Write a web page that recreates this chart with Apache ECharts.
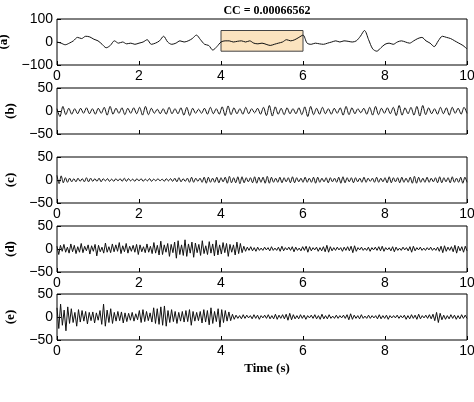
<!DOCTYPE html>
<html lang="en">
<head>
<meta charset="UTF-8">
<title>CC</title>
<script src="https://cdn.jsdelivr.net/npm/echarts@6/dist/echarts.min.js"></script>
<style>body{margin:0;background:#fff}</style>
</head>
<body>
<div id="main" style="width:474px;height:402px;"></div>
<script>
// panel (a): samples every 0.1 s
var sigA = [0,-5,-12,-5,5,20,15,25,22,12,5,-10,-25,-15,5,-5,0,-8,-5,-10,-5,0,10,-10,-5,5,25,0,-10,-5,5,0,5,15,30,10,-10,-15,-35,-20,
  0,5,5,0,3,5,0,5,-5,-8,-5,-10,-15,-10,-5,0,10,5,10,20,30,-5,-10,-5,-8,-10,-5,0,5,0,5,3,0,5,25,50,10,-30,-40,-25,
  -10,-5,-10,0,5,0,-5,5,15,20,5,-5,-20,5,25,20,15,5,-5,-15,-30];
// panels (b)-(e): successive peaks / troughs
var sigB = [5,-12,10,-8,6,-7,5,-6,6,-5,7,-6,5,-7,6,-5,8,-9,10,-7,6,-5,7,-8,6,-5,7,-6,8,-9,10,-8,6,-5,4,-6,5,-7,8,-6,
  5,-6,7,-9,8,-10,6,-5,4,-5,6,-7,8,-6,5,-7,9,-10,11,-8,7,-6,5,-7,8,-6,5,-4,6,-7,8,-10,12,-11,9,-7,6,-8,7,-6,
  5,-6,7,-8,9,-12,10,-8,6,-7,8,-6,5,-7,6,-5,7,-9,10,-8,7,-6,5,-4,6,-7,8,-9,10,-8,6,-5,7,-6,8,-10,12,-9,7,-6,
  8,-9,10,-11,12,-8,7,-6,5,-7,8,-6,7,-9,8,-5,6,-7,8,-5];
var sigC = [10,-8,9,-6,5,-5,4,-4,3,-4,4,-3,3,-4,5,-4,4,-3,3,-3,4,-4,3,-2,3,-3,2,-3,3,-2,3,-3,4,-3,3,-2,2,-3,3,-2,
  3,-3,2,-2,3,-3,2,-2,3,-2,2,-3,3,-2,3,-3,4,-4,5,-4,3,-3,4,-5,6,-5,4,-3,4,-5,6,-7,6,-5,4,-5,6,-6,5,-4,
  6,-7,8,-6,5,-6,7,-8,7,-6,5,-4,5,-6,7,-7,6,-5,6,-7,8,-7,6,-5,4,-5,6,-6,5,-4,5,-6,7,-6,5,-4,4,-5,6,-5,
  4,-5,6,-7,6,-5,4,-4,5,-6,5,-4,4,-5,6,-7,7,-6,5,-4,5,-6,5,-4,4,-5,6,-5,4,-3,4,-5,6,-5,4,-4,5,-6,7,-6,
  5,-4,5,-6,6,-5,4,-5,6,-7,8,-7,6,-5,4,-5,6,-5,4,-4,5,-6,7,-6,5,-4,5,-6,7,-5,4,-5,6,-7,6,-5];
var sigD = [6,-12,8,-5,10,-7,4,-9,11,-6,8,-10,5,-7,12,-8,6,-4,9,-11,7,-5,10,-15,8,-6,4,-9,13,-7,5,-8,11,-6,9,-5,14,-10,7,-6,
  12,-9,6,-5,8,-7,10,-12,9,-6,5,-8,11,-7,6,-10,14,-9,8,-13,17,-12,9,-7,12,-16,10,-8,15,-20,18,-12,9,-14,20,-16,11,-9,15,-18,
  13,-8,10,-14,18,-10,7,-12,16,-9,11,-15,19,-13,9,-11,14,-8,12,-16,10,-7,9,-13,15,-10,12,-8,6,-5,4,-3,5,-4,3,-5,4,-3,
  2,-3,4,-2,3,-4,5,-3,2,-3,4,-5,6,-4,3,-2,4,-3,5,-6,4,-3,2,-4,5,-3,6,-7,5,-4,3,-2,4,-5,3,-4,5,-6,8,-7,
  5,-4,3,-3,4,-2,3,-5,4,-3,5,-4,6,-8,7,-5,3,-2,4,-3,2,-3,4,-5,3,-2,4,-3,5,-4,6,-5,3,-2,3,-4,5,-6,4,-3,
  2,-3,4,-2,3,-4,5,-7,6,-4,3,-2,4,-3,2,-3,3,-2,4,-3,2,-3,4,-5,6,-8,7,-5,4,-3,5,-6,8,-9,6,-4,5,-7,6,-4];
var sigE = [20,-25,28,-18,15,-30,22,-14,18,-12,10,-20,16,-11,14,-9,12,-15,10,-8,11,-13,9,-7,14,-16,28,-20,15,-12,18,-14,10,-9,12,-8,11,-13,9,-10,
  8,-7,10,-9,7,-6,14,-12,16,-10,12,-8,9,-11,20,-14,18,-16,22,-18,24,-20,14,-12,16,-10,12,-14,10,-9,12,-11,14,-10,16,-18,12,-9,
  10,-8,12,-13,16,-11,14,-17,20,-14,12,-10,18,-22,16,-12,14,-9,11,-8,6,-5,4,-3,3,-4,5,-3,4,-2,3,-4,5,-3,4,-5,3,-2,
  4,-3,5,-4,3,-4,6,-5,4,-3,5,-4,6,-7,8,-6,5,-4,3,-4,5,-3,4,-5,3,-2,4,-3,5,-4,3,-5,6,-4,3,-4,5,-3,
  2,-3,4,-3,3,-2,4,-3,5,-6,7,-5,4,-3,3,-4,5,-3,2,-3,4,-3,3,-2,3,-4,5,-4,3,-3,4,-5,3,-2,3,-2,4,-3,
  3,-2,4,-5,3,-4,5,-3,4,-5,6,-4,3,-2,4,-3,5,-4,6,-8,10,-12,8,-6,4,-5,3,-4,5,-3,4,-5,3,-4,5,-3,4,-3];
var panelNames = ['(a)', '(b)', '(c)', '(d)', '(e)'];
var xTicks = [0, 2, 4, 6, 8, 10];

var signals = [sigA, sigB, sigC, sigD, sigE];
var tops = [19, 88, 157, 226, 294];
var showX = [true, false, true, true, true];
var smoothOn = [true, true, true, false, false];

function pairs(arr) {
    var out = [];
    for (var i = 0; i < arr.length; i++) out.push([i * 10 / (arr.length - 1), arr[i]]);
    return out;
}

var grids = [], xAxes = [], yAxes = [], series = [];
var font = 'Liberation Sans';
for (var k = 0; k < 5; k++) {
    grids.push({left: 57, right: 7, top: tops[k], height: 46, show: true, borderColor: '#000', borderWidth: 1,
        containLabel: false, outerBoundsMode: 'none'});
    xAxes.push({
        type: 'value', gridIndex: k, min: 0, max: 10, interval: 2,
        axisLine: {show: false, onZero: false},
        axisTick: {show: true, inside: true, length: 4, lineStyle: {color: '#000'}},
        splitLine: {show: false},
        axisLabel: {show: showX[k], color: '#000', fontSize: 14, fontFamily: font, margin: 4}
    });
    var lim = k == 0 ? 100 : 50;
    yAxes.push({
        type: 'value', gridIndex: k, min: -lim, max: lim, interval: lim,
        name: panelNames[k], nameLocation: 'middle', nameGap: 40, nameRotate: 90,
        nameTextStyle: {fontFamily: 'Liberation Serif', fontWeight: 'bold', fontSize: 13, color: '#000'},
        axisLine: {show: false, onZero: false},
        axisTick: {show: true, inside: true, length: 4, lineStyle: {color: '#000'}},
        splitLine: {show: false},
        axisLabel: {color: '#000', fontSize: 14, fontFamily: font, margin: 4,
            formatter: function (v) { return v < 0 ? '\u2212' + (-v) : v; }}
    });
    var s = {
        type: 'line', xAxisIndex: k, yAxisIndex: k, data: pairs(signals[k]),
        showSymbol: false, smooth: smoothOn[k] ? 0.3 : false,
        lineStyle: {color: '#111', width: 1}
    };
    if (k == 0) {
        s.markArea = {
            silent: true,
            itemStyle: {color: '#fbe3bf', borderColor: '#444', borderWidth: 1},
            data: [[{coord: [4, -40]}, {coord: [6, 50]}]]
        };
    }
    series.push(s);
}

var myChart = echarts.init(document.getElementById('main'));
myChart.setOption({
    animation: false,
    title: [
        {text: 'CC = 0.00066562', left: 262, top: 0, textAlign: 'center',
            textStyle: {fontFamily: 'Liberation Serif', fontWeight: 'bold', fontSize: 12, color: '#000'}},
        {text: 'Time (s)', left: 262, top: 357, textAlign: 'center',
            textStyle: {fontFamily: 'Liberation Serif', fontWeight: 'bold', fontSize: 13, color: '#000'}}
    ],
    grid: grids,
    xAxis: xAxes,
    yAxis: yAxes,
    series: series
});
</script>
</body>
</html>
